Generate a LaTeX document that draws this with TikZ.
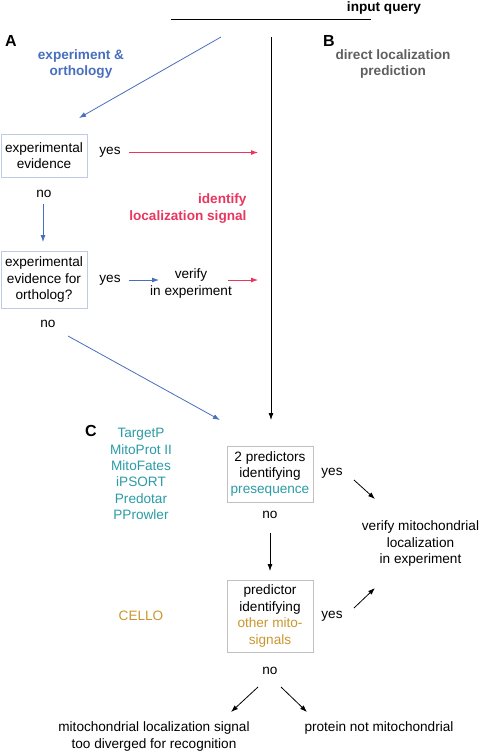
\documentclass[tikz,border=0pt]{standalone}
\usepackage{fontspec}
\setmainfont{Liberation Sans}
\usetikzlibrary{arrows.meta}

\definecolor{ablue}{RGB}{72,110,190}
\definecolor{bpink}{RGB}{232,54,95}
\definecolor{bgray}{RGB}{95,95,95}
\definecolor{cteal}{RGB}{42,155,165}
\definecolor{cgold}{RGB}{201,150,46}
\definecolor{boxa}{RGB}{192,202,226}
\definecolor{boxc}{RGB}{192,192,192}

\begin{document}
\begin{tikzpicture}[x=1pt, y=-1pt, font=\fontsize{13.6}{16.4}\selectfont,
    arr/.style={line width=0.8pt, -{Latex[length=7pt,width=5pt]}},
    abox/.style={draw=boxa, line width=0.9pt, align=center, minimum width=86pt},
    cbox/.style={draw=boxc, line width=0.9pt, align=center, minimum width=86pt},
    panel/.style={font=\fontsize{16}{18}\selectfont\bfseries}]
\useasboundingbox (0,0) rectangle (480,753);

% input query and the two ways
\node[font=\fontsize{13.6}{16.4}\selectfont\bfseries] (query) at (384,8) {input query};
\coordinate (ql) at (171,19.5);
\coordinate (qr) at (371,19.5);
\draw[line width=0.8pt] (ql) -- (qr);
\coordinate (qa) at (221,37);
\coordinate (qb) at (271,37);
\coordinate (qc) at (271,420);

% A: experiment and orthology
\node[panel] (A) at (11,41) {A};
\node[ablue, font=\fontsize{13.6}{16.4}\selectfont\bfseries, align=center] (expo) at (81,64) {experiment \&\\orthology};
\node[abox, minimum height=43pt] (exp) at (44,155.5) {experimental\\evidence};
\node (yes1) at (110,152.5) {yes};
\node (no1) at (44,194) {no};
\node[abox, minimum height=57pt] (orth) at (44,279.5) {experimental\\evidence for\\ortholog?};
\node (yes2) at (110,280) {yes};
\node[align=center] (verif) at (191,283.5) {verify\\in experiment};
\node (no2) at (48,324) {no};
\node[bpink, font=\fontsize{13.6}{16.4}\selectfont\bfseries, align=right, anchor=east] (ident) at (250,208.5) {identify\\localization signal};
\coordinate (ea) at (79,118);
\coordinate (y1a) at (129,152.5);
\coordinate (y1b) at (258,152.5);
\coordinate (n1a) at (43,204);
\coordinate (n1b) at (43,242);
\coordinate (y2a) at (129,280);
\coordinate (y2b) at (159,280);
\coordinate (v2a) at (228,280);
\coordinate (v2b) at (258,280);
\coordinate (n2a) at (68,336);
\coordinate (n2b) at (220,420);

% B: direct prediction
\node[panel] (B) at (329,41) {B};
\node[bgray, font=\fontsize{13.6}{16.4}\selectfont\bfseries, align=center] (direct) at (393,64) {direct localization\\prediction};

% C: predictors
\node[panel] (C) at (91,431) {C};
\node[cteal, align=center] (tools) at (141,474) {TargetP\\MitoProt II\\MitoFates\\iPSORT\\Predotar\\PProwler};
\node[cbox, minimum height=56pt] (pres) at (270,474) {2 predictors\\identifying\\\textcolor{cteal}{presequence}};
\node (yes3) at (332,473) {yes};
\node (no3) at (270,515) {no};
\node[align=center] (verm) at (420.5,543.5) {verify mitochondrial\\localization\\in experiment};
\node[cgold] (cello) at (141,616) {CELLO};
\node[cbox, minimum height=72pt] (other) at (270,616) {predictor\\identifying\\\textcolor{cgold}{other mito-}\\\textcolor{cgold}{signals}};
\node (yes4) at (332,616) {yes};
\node (no4) at (270,671) {no};
\node[align=center] (diverg) at (154,736.5) {mitochondrial localization signal\\too diverged for recognition};
\node (notmito) at (379,728) {protein not mitochondrial};
\coordinate (y3a) at (354,480);
\coordinate (y3b) at (375,499);
\coordinate (n3a) at (270,533);
\coordinate (n3b) at (270,571);
\coordinate (y4a) at (354,608);
\coordinate (y4b) at (375,588);
\coordinate (n4l) at (258,687);
\coordinate (dl) at (231,712);
\coordinate (n4r) at (281,687);
\coordinate (dr) at (307,712);

% connectors
\draw[arr, ablue] (qa) -- (ea);
\draw[arr] (qb) -- (qc);
\draw[arr, bpink] (y1a) -- (y1b);
\draw[arr, ablue] (n1a) -- (n1b);
\draw[arr, ablue] (y2a) -- (y2b);
\draw[arr, bpink] (v2a) -- (v2b);
\draw[arr, ablue] (n2a) -- (n2b);
\draw[arr] (y3a) -- (y3b);
\draw[arr] (n3a) -- (n3b);
\draw[arr] (y4a) -- (y4b);
\draw[arr] (n4l) -- (dl);
\draw[arr] (n4r) -- (dr);
\end{tikzpicture}
\end{document}
